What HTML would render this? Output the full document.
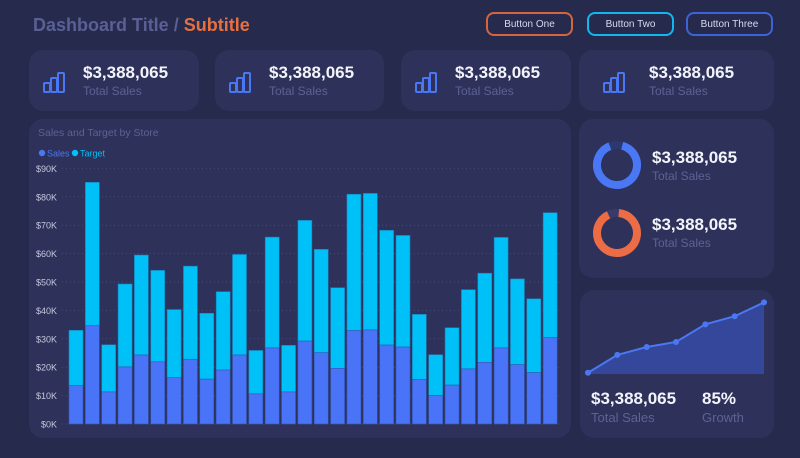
<!DOCTYPE html>
<html><head><meta charset="utf-8">
<style>
*{margin:0;padding:0;box-sizing:border-box}
body{width:800px;height:458px;background:#262a4d;font-family:"Liberation Sans",sans-serif;position:relative;overflow:hidden}
.abs{position:absolute}
.card{position:absolute;background:#2e3159;border-radius:14px}
.btn{position:absolute;top:12px;height:24px;border:2px solid;border-radius:8px;color:#d8dbef;font-size:10px;display:flex;align-items:center;justify-content:center;background:transparent}
.val{position:absolute;color:#f3f4fb;font-weight:bold;font-size:17px}
.lab{position:absolute;color:#5d6294;font-size:12px}
</style></head><body>
<div class="abs" style="left:33px;top:15px;font-size:18px;font-weight:bold;color:#5a5f95">Dashboard Title / <span style="color:#e8703f">Subtitle</span></div>
<div class="btn" style="left:486px;width:87px;border-color:#d5653f">Button One</div>
<div class="btn" style="left:587px;width:87px;border-color:#12b7ee">Button Two</div>
<div class="btn" style="left:686px;width:87px;border-color:#3d63d6">Button Three</div>

<div id="kpis"></div>

<div class="card" style="left:29px;top:119px;width:542px;height:319px"></div>
<svg class="abs" style="left:0;top:0" width="800" height="458" id="chart">
<text x="38" y="136" font-size="10.5" fill="#5d6294">Sales and Target by Store</text>
<circle cx="42" cy="153" r="3.2" fill="#4a78f5"/>
<text x="47" y="156.5" font-size="9" fill="#4a78f5">Sales</text>
<circle cx="75" cy="153" r="3.2" fill="#00c0f8"/>
<text x="80" y="156.5" font-size="9" fill="#00c0f8">Target</text>
<g id="grid"></g><g id="bars"></g>
</svg>

<div class="card" style="left:579px;top:119px;width:195px;height:159px"></div>
<svg class="abs" style="left:579px;top:119px" width="195" height="159">
<g>
<circle cx="38" cy="46" r="20" fill="none" stroke="#2c3870" stroke-width="8"/>
<circle cx="38" cy="46" r="20" fill="none" stroke="#4a78f5" stroke-width="8" stroke-dasharray="113 126" transform="rotate(-75 38 46)"/>
</g>
<g>
<circle cx="38" cy="114" r="20" fill="none" stroke="#3a3a6a" stroke-width="8"/>
<circle cx="38" cy="114" r="20" fill="none" stroke="#ec6d45" stroke-width="8" stroke-dasharray="115 126" transform="rotate(-85 38 114)"/>
</g>
</svg>
<div class="val" style="left:652px;top:148px">$3,388,065</div>
<div class="lab" style="left:652px;top:169px">Total Sales</div>
<div class="val" style="left:652px;top:215px">$3,388,065</div>
<div class="lab" style="left:652px;top:236px">Total Sales</div>

<div class="card" style="left:580px;top:290px;width:194px;height:148px"></div>
<svg class="abs" style="left:0;top:0" width="800" height="458"><g id="trend"></g></svg>
<div class="val" style="left:591px;top:389px">$3,388,065</div>
<div class="lab" style="left:591px;top:410px;font-size:13px">Total Sales</div>
<div class="val" style="left:702px;top:389px">85%</div>
<div class="lab" style="left:702px;top:410px;font-size:13px">Growth</div>

<script>
const kpiX=[29,215,401,579];
const kpiW=[170,169,170,195];
const sales=[13.5,34.6,11.3,20.1,24.3,21.9,16.3,22.8,15.8,19,24.3,10.6,26.8,11.3,29.2,25.1,19.6,32.9,33.1,27.8,27.1,15.7,10,13.7,19.4,21.7,26.8,20.9,18.1,30.4];
const totals=[33,85.1,27.9,49.3,59.5,54.1,40.3,55.6,39,46.6,59.7,25.9,65.8,27.7,71.7,61.5,48,80.9,81.2,68.2,66.4,38.6,24.4,33.9,47.3,53.1,65.7,51.1,44.1,74.4];
const yTicks=[0,10,20,30,40,50,60,70,80,90];
const yTickLabels=["$0K","$10K","$20K","$30K","$40K","$50K","$60K","$70K","$80K","$90K"];
const trendVals=[0.7,10.6,15,17.8,27.6,32.1,39.8];

const NS="http://www.w3.org/2000/svg";
function mk(t,a,p){const e=document.createElementNS(NS,t);for(const k in a)e.setAttribute(k,a[k]);p.appendChild(e);return e;}
const kp=document.getElementById('kpis');
kpiX.forEach((x,i)=>{
  const c=document.createElement('div');c.className='card';
  
  
  c.style.cssText=`left:${x}px;top:50px;width:${kpiW[i]}px;height:61px`;
  const ix=i==3?24:14;
  c.innerHTML=`<svg style="position:absolute;left:${ix}px;top:22px" width="24" height="22"><g fill="none" stroke="#4a78f5" stroke-width="2"><rect x="1" y="11" width="6" height="9" rx="1"/><rect x="8" y="6" width="6" height="14" rx="1"/><rect x="15" y="1" width="6" height="19" rx="1"/></g></svg>`;
  const ic=c.firstChild;
  
  
  const v=document.createElement('div');v.className='val';v.textContent='$3,388,065';
  v.style.cssText=`left:${i==3?70:54}px;top:13px`;
  
  
  const l=document.createElement('div');l.className='lab';l.textContent='Total Sales';
  l.style.cssText=`left:${i==3?70:54}px;top:34px`;
  
  
  c.appendChild(v);c.appendChild(l);kp.appendChild(c);
});
const y=v=>424-v*2.84;
const x=i=>69+i*16.35;
const g=document.getElementById('grid'),b=document.getElementById('bars');
yTicks.forEach((t,i)=>{
  const ln=mk('line',{x1:62,x2:562,y1:y(t),y2:y(t),stroke:'#464b7a','stroke-width':1,'stroke-dasharray':'1 3'},g);
  
  
  const tx=mk('text',{x:57,y:y(t)+3.5,'font-size':9,fill:'#c5c8de','text-anchor':'end'},g);
  tx.textContent=yTickLabels[i];
  
  
});
totals.forEach((t,i)=>{
  const r1=mk('rect',{x:x(i),y:y(t),width:14,height:y(sales[i])-y(t),fill:'#00c0f8',stroke:'#1a7fb8','stroke-width':0.6},b);
  
  
  const r2=mk('rect',{x:x(i),y:y(sales[i]),width:14,height:y(0)-y(sales[i]),fill:'#4a74f8',stroke:'#3555b0','stroke-width':0.6},b);
  
  
});
const tg=document.getElementById('trend');
const tx=i=>588+i*(764-588)/(trendVals.length-1);
const ty=v=>374-v*1.8;
let pts=trendVals.map((v,i)=>tx(i)+','+ty(v)).join(' ');
const area=mk('polygon',{points:`${tx(0)},374 ${pts} ${tx(trendVals.length-1)},374`,fill:'#34479a'},tg);


const pl=mk('polyline',{points:pts,fill:'none',stroke:'#4a78f5','stroke-width':2},tg);


trendVals.forEach((v,i)=>{
  const c=mk('circle',{cx:tx(i),cy:ty(v),r:3,fill:'#4a78f5'},tg);
  
  
});
</script>
</body></html>
